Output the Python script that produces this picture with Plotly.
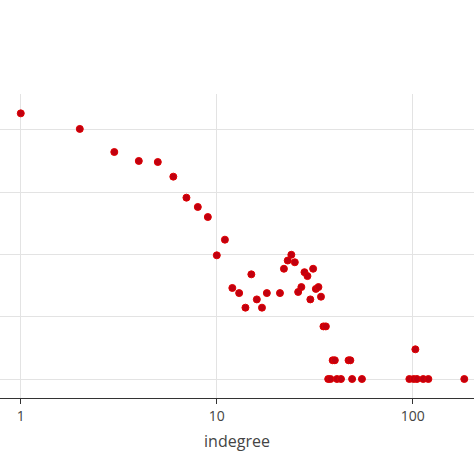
import plotly.graph_objects as go

indegree = [1, 2, 3, 4, 5, 6, 7, 8, 9, 10, 11, 12, 13, 14, 15, 16, 17, 18,
            21, 22, 23, 24, 25, 26, 27, 28, 29, 30, 31, 32, 33, 34, 35, 36,
            37, 38, 39, 40, 41, 43, 47, 48, 49, 55, 96, 101, 103, 105, 113, 120, 183]
frequency = [18500, 10400, 4430, 3180, 3060, 1780, 818, 580, 400, 97, 173, 29, 24, 14, 48, 19, 14, 24,
             24, 59, 80, 99, 75, 25, 30, 52, 45, 19, 59, 28, 30, 21, 7, 7,
             1, 1, 2, 2, 1, 1, 2, 2, 1, 1, 1, 1, 3, 1, 1, 1, 1]

x_ticks = [1, 10, 100]
x_tick_labels = ["1", "10", "100"]

fig = go.Figure(go.Scatter(
    x=indegree, y=frequency, mode="markers",
    marker=dict(color="#c00010", size=7, line=dict(color="#e00000", width=1)),
))

fig.update_layout(
    width=474, height=474,
    margin=dict(l=0, r=0, t=94, b=76),
    paper_bgcolor="white", plot_bgcolor="white",
    font=dict(family="Open Sans, Arial, sans-serif", color="#444", size=14),
    showlegend=False,
)
fig.update_xaxes(
    type="log", range=[-0.106, 2.312],
    tickvals=x_ticks, ticktext=x_tick_labels,
    showgrid=True, gridcolor="#e3e3e3", gridwidth=1,
    showline=True, linecolor="#333", linewidth=1,
    ticks="outside", ticklen=5, tickcolor="#333",
    title=dict(text="indegree", font=dict(size=16, color="#444"), standoff=12),
    zeroline=False,
)
fig.update_yaxes(
    type="log", range=[-0.305, 4.578], dtick=1,
    showgrid=True, gridcolor="#e3e3e3", gridwidth=1,
    showticklabels=False, showline=False, zeroline=False, ticks="",
)

fig.write_html(
    "out.html",
    config={"displayModeBar": False},
    post_script="document.body.style.margin='0';document.body.style.overflow='hidden';",
)
